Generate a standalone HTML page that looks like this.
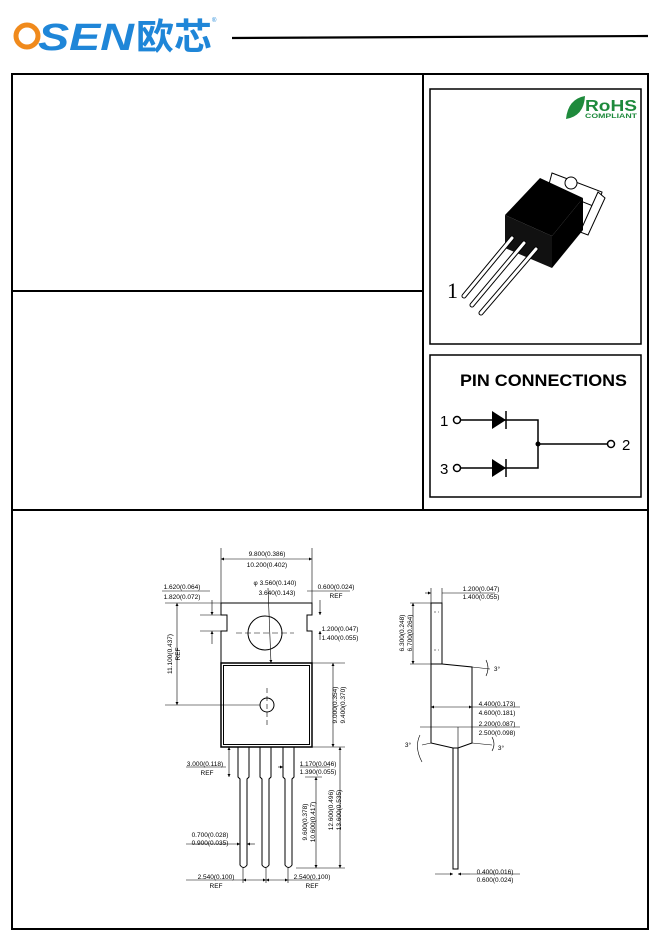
<!DOCTYPE html>
<html><head><meta charset="utf-8"><style>
html,body{margin:0;padding:0;background:#fff;}
svg{display:block;}
</style></head><body>
<svg width="650" height="931" viewBox="0 0 650 931" xmlns="http://www.w3.org/2000/svg" font-family="Liberation Sans, Noto Sans CJK SC, sans-serif">
<defs><marker id="a" viewBox="0 0 6 6" refX="6" refY="3" markerWidth="5" markerHeight="5" orient="auto-start-reverse"><path d="M0,0 L6,3 L0,6Z" fill="#000"/></marker></defs>
<!-- header logo -->
<circle cx="27" cy="36" r="11" fill="none" stroke="#f08a1c" stroke-width="5"/>
<text x="38" y="50" font-size="38" font-weight="bold" font-style="italic" fill="#1f86d8" textLength="96" lengthAdjust="spacingAndGlyphs">SEN</text>
<text x="136" y="49" font-size="36" font-weight="bold" fill="#1f86d8" font-family="Noto Sans CJK SC, sans-serif" textLength="76" lengthAdjust="spacingAndGlyphs">欧芯</text>
<text x="212" y="22" font-size="6" fill="#1f86d8">®</text>
<line x1="232" y1="38" x2="648" y2="36" stroke="#000" stroke-width="2.2"/>
<!-- frames -->
<rect x="12" y="74" width="636" height="855" fill="none" stroke="#000" stroke-width="2"/>
<line x1="423" y1="74" x2="423" y2="510" stroke="#000" stroke-width="2"/>
<line x1="12" y1="291" x2="423" y2="291" stroke="#000" stroke-width="2"/>
<line x1="12" y1="510" x2="648" y2="510" stroke="#000" stroke-width="2"/>
<rect x="430" y="89" width="211" height="255" fill="none" stroke="#000" stroke-width="1.5"/>
<rect x="430" y="355" width="211" height="142" fill="none" stroke="#000" stroke-width="1.5"/>
<!-- RoHS -->
<path d="M566 119 Q568 99 585 96 Q584 116 566 119Z" fill="#1e8a3c"/>
<text x="585" y="111" font-size="16" font-weight="bold" fill="#1e8a3c" textLength="52" lengthAdjust="spacingAndGlyphs">RoHS</text>
<text x="585" y="118" font-size="6" font-weight="bold" fill="#1e8a3c" textLength="52" lengthAdjust="spacingAndGlyphs">COMPLIANT</text>
<!-- package 3D -->
<polygon points="552,173 602,192 598,208 548,188" fill="#fff" stroke="#000"/>
<polygon points="598,192 605,198 588,235 580,232" fill="#fff" stroke="#000"/>
<circle cx="571" cy="183" r="6" fill="#fff" stroke="#000"/>
<polygon points="505,215 540,178 583,198 552,236" fill="#000"/>
<polygon points="505,215 552,236 552,268 505,248" fill="#111"/>
<polygon points="552,236 583,198 583,230 552,268" fill="#000"/>
<g stroke="#000" stroke-width="5" stroke-linecap="round"><line x1="512" y1="238" x2="464" y2="296"/><line x1="524" y1="243" x2="472" y2="305"/><line x1="536" y1="249" x2="481" y2="313"/></g>
<g stroke="#fff" stroke-width="3" stroke-linecap="round"><line x1="512" y1="238" x2="464" y2="296"/><line x1="524" y1="243" x2="472" y2="305"/><line x1="536" y1="249" x2="481" y2="313"/></g>
<text x="447" y="298" font-size="22" font-family="Liberation Serif, serif">1</text>
<!-- pin connections -->
<text x="460" y="386" font-size="17" font-weight="bold" textLength="167" lengthAdjust="spacingAndGlyphs">PIN CONNECTIONS</text>
<g stroke="#000" stroke-width="1.5" fill="none">
<circle cx="457" cy="420" r="3.5"/><circle cx="457" cy="468" r="3.5"/><circle cx="611" cy="444" r="3.5"/>
<polyline points="461,420 538,420 538,468 461,468"/><line x1="538" y1="444" x2="607" y2="444"/>
<line x1="506" y1="411" x2="506" y2="429"/><line x1="506" y1="459" x2="506" y2="477"/>
</g>
<polygon points="492,411 506,420 492,429" fill="#000"/><polygon points="492,459 506,468 492,477" fill="#000"/>
<circle cx="538" cy="444" r="2.5" fill="#000"/>
<text x="440" y="426" font-size="15">1</text><text x="440" y="474" font-size="15">3</text><text x="622" y="450" font-size="15">2</text>
<!-- front view -->
<g stroke="#000" fill="none" stroke-width="1">
<path d="M221,603 L312,603 L312,615 L307,615 L307,631 L312,631 L312,747 L221,747 L221,631 L227,631 L227,615 L221,615 Z"/>
<rect x="221" y="663" width="91" height="84" stroke-width="1.5"/>
<rect x="223.5" y="665.5" width="86" height="79" stroke-width="1"/>
<circle cx="265" cy="633" r="17"/>
<circle cx="267" cy="705" r="7"/>
<line x1="236" y1="633" x2="294" y2="633" stroke-dasharray="6,3" stroke-width="0.6"/>
<line x1="267" y1="688" x2="267" y2="725" stroke-dasharray="5,3" stroke-width="0.6"/>
<path d="M238,747 V777 L240,779 V865 Q243.5,870 247,865 V779 L249,777 V747"/>
<path d="M260,747 V777 L262,779 V865 Q265.5,870 269,865 V779 L271,777 V747"/>
<path d="M283,747 V777 L285,779 V865 Q288.5,870 292,865 V779 L294,777 V747"/>
</g>
<g stroke="#000" stroke-width="0.6" fill="none">
<line x1="221" y1="548" x2="221" y2="603"/><line x1="312" y1="548" x2="312" y2="603"/><line x1="221" y1="559" x2="312" y2="559" marker-start="url(#a)" marker-end="url(#a)"/>
<line x1="162" y1="591" x2="210" y2="591"/><line x1="200" y1="615" x2="221" y2="615"/><line x1="200" y1="631" x2="221" y2="631"/><line x1="212" y1="600" x2="212" y2="615" marker-end="url(#a)"/><line x1="212" y1="644" x2="212" y2="631" marker-end="url(#a)"/>
<line x1="165" y1="603" x2="221" y2="603"/><line x1="177" y1="603" x2="177" y2="705" marker-start="url(#a)" marker-end="url(#a)"/><line x1="165" y1="705" x2="260" y2="705"/>
<line x1="268" y1="588" x2="271" y2="663" marker-end="url(#a)"/>
<line x1="307" y1="591" x2="350" y2="591"/><line x1="320" y1="600" x2="320" y2="615" marker-end="url(#a)"/><line x1="320" y1="640" x2="320" y2="631" marker-end="url(#a)"/>
<line x1="312" y1="663" x2="345" y2="663"/><line x1="333" y1="663" x2="333" y2="747" marker-start="url(#a)" marker-end="url(#a)"/><line x1="312" y1="747" x2="345" y2="747"/>
<line x1="340" y1="747" x2="340" y2="868" marker-start="url(#a)" marker-end="url(#a)"/><line x1="296" y1="868" x2="345" y2="868"/>
<line x1="305" y1="777" x2="322" y2="777"/><line x1="316" y1="777" x2="316" y2="868" marker-start="url(#a)" marker-end="url(#a)"/>
<line x1="278" y1="767" x2="283" y2="767" marker-end="url(#a)"/><line x1="300" y1="767" x2="330" y2="767"/>
<line x1="186" y1="767" x2="226" y2="767"/><line x1="229" y1="747" x2="229" y2="777" marker-start="url(#a)" marker-end="url(#a)"/>
<line x1="186" y1="844" x2="240" y2="844" marker-end="url(#a)"/><line x1="255" y1="844" x2="247" y2="844" marker-end="url(#a)"/>
<line x1="186" y1="880" x2="243" y2="880"/><line x1="243" y1="868" x2="243" y2="883"/><line x1="266" y1="868" x2="266" y2="883"/><line x1="288" y1="868" x2="288" y2="883"/><line x1="243" y1="880" x2="266" y2="880" marker-start="url(#a)" marker-end="url(#a)"/><line x1="266" y1="880" x2="288" y2="880" marker-start="url(#a)" marker-end="url(#a)"/><line x1="288" y1="880" x2="320" y2="880"/>
</g>
<g font-size="6.5" fill="#000" text-anchor="middle">
<text x="267" y="556">9.800(0.386)</text><text x="267" y="567">10.200(0.402)</text>
<text x="182" y="589">1.620(0.064)</text><text x="182" y="599">1.820(0.072)</text>
<text x="275" y="585">φ 3.560(0.140)</text><text x="277" y="595">3.640(0.143)</text>
<text x="336" y="589">0.600(0.024)</text><text x="336" y="598">REF</text>
<text x="340" y="631">1.200(0.047)</text><text x="340" y="640">1.400(0.055)</text>
<text x="205" y="766">3.000(0.118)</text><text x="207" y="775">REF</text>
<text x="318" y="766">1.170(0.046)</text><text x="318" y="774">1.390(0.055)</text>
<text x="210" y="837">0.700(0.028)</text><text x="210" y="845">0.900(0.035)</text>
<text x="216" y="879">2.540(0.100)</text><text x="216" y="888">REF</text>
<text x="312" y="879">2.540(0.100)</text><text x="312" y="888">REF</text>
<text transform="translate(172,654) rotate(-90)">11.100(0.437)</text><text transform="translate(180,654) rotate(-90)">REF</text>
<text transform="translate(337,705) rotate(-90)">9.000(0.354)</text><text transform="translate(345,705) rotate(-90)">9.400(0.370)</text>
<text transform="translate(307,822) rotate(-90)">9.600(0.378)</text><text transform="translate(315,822) rotate(-90)">10.600(0.417)</text>
<text transform="translate(333,810) rotate(-90)">12.600(0.496)</text><text transform="translate(341,810) rotate(-90)">13.600(0.535)</text>
<text transform="translate(404,633) rotate(-90)">6.300(0.248)</text><text transform="translate(412,633) rotate(-90)">6.700(0.264)</text>
<text x="481" y="591">1.200(0.047)</text><text x="481" y="599">1.400(0.055)</text>
<text x="497" y="706">4.400(0.173)</text><text x="497" y="715">4.600(0.181)</text>
<text x="497" y="726">2.200(0.087)</text><text x="497" y="735">2.500(0.098)</text>
<text x="495" y="874">0.400(0.016)</text><text x="495" y="882">0.600(0.024)</text>
<text x="497" y="671">3°</text><text x="408" y="747">3°</text><text x="501" y="750">3°</text>
</g>
<!-- side view -->
<g stroke="#000" fill="none" stroke-width="1">
<rect x="431" y="603" width="11" height="61"/>
<line x1="434" y1="612" x2="439" y2="612" stroke-dasharray="2,2" stroke-width="0.5"/><line x1="434" y1="650" x2="439" y2="650" stroke-dasharray="2,2" stroke-width="0.5"/>
<path d="M431,664 L442,664 L472,667 L472,743 L458,748 L453,748 L431,743 Z"/>
<rect x="453" y="748" width="5" height="121"/>
</g>
<g stroke="#000" stroke-width="0.6" fill="none">
<line x1="410" y1="603" x2="431" y2="603"/><line x1="410" y1="664" x2="431" y2="664"/><line x1="413" y1="603" x2="413" y2="664" marker-start="url(#a)" marker-end="url(#a)"/>
<line x1="425" y1="593" x2="431" y2="593" marker-end="url(#a)"/><line x1="442" y1="593" x2="495" y2="593"/><line x1="431" y1="588" x2="431" y2="603"/><line x1="442" y1="588" x2="442" y2="603"/>
<line x1="431" y1="707" x2="472" y2="707" marker-start="url(#a)" marker-end="url(#a)"/><line x1="472" y1="707" x2="520" y2="707"/><line x1="420" y1="727" x2="520" y2="727"/><line x1="458" y1="727" x2="458" y2="748"/>
<line x1="472" y1="667" x2="490" y2="669"/><path d="M486,660 Q490,668 486,676"/>
<line x1="422" y1="745" x2="431" y2="743"/><line x1="472" y1="743" x2="492" y2="745"/><path d="M420,735 Q414,747 422,762"/><path d="M492,737 Q496,744 492,751"/>
<line x1="435" y1="874" x2="453" y2="874" marker-end="url(#a)"/><line x1="470" y1="874" x2="458" y2="874" marker-end="url(#a)"/><line x1="470" y1="874" x2="520" y2="874"/>
</g>
</svg>
</body></html>
